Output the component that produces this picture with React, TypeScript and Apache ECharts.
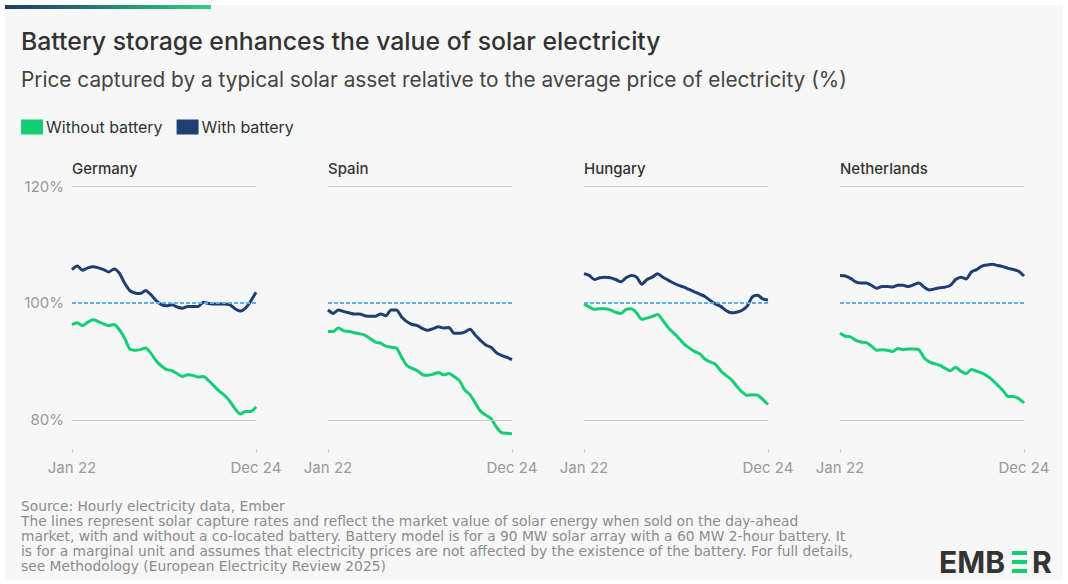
import React, { useEffect, useRef } from "react";
import * as echarts from "echarts";

// Month categories, Jan 2022 – Dec 2024
const MONTHS = [
  "Jan 22", "Feb 22", "Mar 22", "Apr 22", "May 22", "Jun 22", "Jul 22", "Aug 22", "Sep 22", "Oct 22", "Nov 22", "Dec 22",
  "Jan 23", "Feb 23", "Mar 23", "Apr 23", "May 23", "Jun 23", "Jul 23", "Aug 23", "Sep 23", "Oct 23", "Nov 23", "Dec 23",
  "Jan 24", "Feb 24", "Mar 24", "Apr 24", "May 24", "Jun 24", "Jul 24", "Aug 24", "Sep 24", "Oct 24", "Nov 24", "Dec 24",
];

const COUNTRIES = ["Germany", "Spain", "Hungary", "Netherlands"];

// Capture rate (% of average price), without battery
const germanyWithout = [96.3, 96.6, 96.1, 96.7, 97.1, 96.8, 96.4, 96.1, 96.3, 95.4, 94.0, 92.1, 91.9, 92.0, 92.3, 91.4, 90.1, 89.2, 88.6, 88.4, 87.9, 87.4, 87.7, 87.6, 87.3, 87.4, 86.7, 85.8, 84.9, 84.2, 83.2, 81.9, 81.0, 81.4, 81.4, 82.2];
const spainWithout = [95.1, 95.1, 95.7, 95.2, 95.1, 94.9, 94.7, 94.5, 93.9, 93.3, 93.1, 92.6, 92.4, 92.3, 90.7, 89.3, 88.8, 88.4, 87.7, 87.6, 87.8, 88.1, 87.7, 87.9, 87.4, 86.7, 85.1, 84.3, 82.9, 81.5, 80.8, 80.2, 78.8, 77.8, 77.7, 77.6];
const hungaryWithout = [99.8, 99.3, 98.9, 99.0, 99.0, 98.8, 98.4, 98.2, 98.9, 99.0, 98.3, 97.2, 97.4, 97.7, 98.0, 97.0, 95.8, 94.9, 94.0, 93.0, 92.3, 91.7, 91.3, 90.4, 89.9, 89.5, 88.4, 87.6, 86.9, 85.8, 84.8, 84.2, 84.3, 84.2, 83.5, 82.6];
const netherlandsWithout = [94.8, 94.3, 94.2, 93.6, 93.3, 93.2, 92.6, 91.9, 92.0, 91.9, 91.7, 92.2, 92.0, 92.1, 92.1, 92.0, 90.6, 89.9, 89.6, 89.3, 88.8, 88.4, 89.0, 88.3, 87.9, 88.6, 88.3, 88.0, 87.5, 86.8, 85.9, 85.0, 84.0, 84.0, 83.6, 82.9];

// Capture rate (% of average price), with co-located battery
const germanyWith = [105.7, 106.3, 105.6, 106.0, 106.2, 106.0, 105.7, 105.3, 105.8, 105.1, 103.4, 102.1, 101.7, 101.6, 102.1, 101.4, 100.4, 99.7, 99.5, 99.7, 99.3, 99.1, 99.4, 99.4, 99.4, 100.1, 99.9, 99.8, 99.8, 99.8, 99.7, 99.0, 98.6, 99.1, 100.3, 101.8];
const spainWith = [98.8, 98.2, 98.8, 98.5, 98.3, 98.1, 98.1, 97.8, 97.7, 97.7, 98.1, 97.8, 98.8, 98.8, 97.6, 96.8, 96.3, 96.1, 95.6, 95.3, 95.6, 95.9, 95.7, 95.8, 94.8, 94.8, 95.0, 95.5, 94.5, 93.6, 92.8, 92.4, 91.5, 91.0, 90.7, 90.3];
const hungaryWith = [105.0, 104.7, 104.0, 104.3, 104.4, 104.3, 104.0, 103.6, 104.3, 104.7, 104.4, 103.2, 104.0, 104.4, 105.0, 104.4, 103.9, 103.4, 103.0, 102.7, 102.3, 101.9, 101.5, 101.1, 100.4, 99.8, 99.4, 98.7, 98.3, 98.4, 98.7, 99.4, 101.0, 101.3, 100.7, 100.5];
const netherlandsWith = [104.7, 104.6, 104.2, 103.6, 103.4, 103.4, 103.0, 102.5, 102.8, 102.8, 102.7, 103.0, 103.0, 102.8, 103.1, 103.4, 102.7, 102.2, 102.4, 102.6, 102.7, 103.0, 104.0, 104.4, 104.1, 105.3, 105.7, 106.3, 106.5, 106.6, 106.4, 106.2, 105.9, 105.7, 105.4, 104.6];

const WITHOUT = [germanyWithout, spainWithout, hungaryWithout, netherlandsWithout];
const WITH = [germanyWith, spainWith, hungaryWith, netherlandsWith];

const Y_TICKS = [80, 100, 120];

const FOOTNOTES = [
  "Source: Hourly electricity data, Ember",
  "The lines represent solar capture rates and reflect the market value of solar energy when sold on the day-ahead",
  "market, with and without a co-located battery. Battery model is for a 90 MW solar array with a 60 MW 2-hour battery. It",
  "is for a marginal unit and assumes that electricity prices are not affected by the existence of the battery. For full details,",
  "see Methodology (European Electricity Review 2025)",
];

const GREEN = "#13CE74";
const NAVY = "#1F3F73";
const FONT = "Inter, 'Noto Sans', sans-serif";
const NOTE_FONT = "'DejaVu Sans', sans-serif";

const PANEL_LEFT = 72;
const PANEL_STEP = 256;
const PANEL_WIDTH = 184;
const PANEL_TOP = 186;
const PANEL_HEIGHT = 263;

export default function App() {
  const ref = useRef<HTMLDivElement>(null);

  useEffect(() => {
    if (!ref.current) return;
    const chart = echarts.init(ref.current, undefined, { renderer: "svg" });

    const last = MONTHS.length - 1;
    const edgeOnly = (i: number) => i === 0 || i === last;

    const grids = COUNTRIES.map((_, i) => ({
      left: PANEL_LEFT + PANEL_STEP * i,
      top: PANEL_TOP,
      width: PANEL_WIDTH,
      height: PANEL_HEIGHT,
    }));

    const xAxes = COUNTRIES.map((_, i) => ({
      type: "category",
      gridIndex: i,
      data: MONTHS,
      boundaryGap: false,
      axisLine: { show: false },
      axisTick: { show: true, interval: (idx: number) => edgeOnly(idx), length: 4, lineStyle: { color: "#cfcfcf" } },
      axisLabel: {
        interval: (idx: number) => edgeOnly(idx),
        color: "#9a9a9a",
        fontSize: 15,
        fontFamily: FONT,
        margin: 11,
      },
      splitLine: { show: false },
    }));

    const yAxes = COUNTRIES.map((_, i) => ({
      type: "value",
      gridIndex: i,
      min: 75,
      max: 120,
      interval: 5,
      axisLine: { show: false },
      axisTick: { show: false },
      splitLine: { show: false },
      axisLabel: {
        show: i === 0,
        color: "#9a9a9a",
        fontSize: 15,
        fontFamily: FONT,
        margin: 8,
        formatter: (v: number) => (Y_TICKS.includes(v) ? v + "%" : ""),
      },
    }));

    const series: any[] = [];
    COUNTRIES.forEach((_, i) => {
      // reference lines: solid grey at 80/120, dotted blue at 100
      series.push({
        type: "line",
        xAxisIndex: i,
        yAxisIndex: i,
        data: [],
        z: 1,
        silent: true,
        markLine: {
          silent: true,
          symbol: "none",
          label: { show: false },
          animation: false,
          data: [
            { yAxis: 80, lineStyle: { color: "#cccccc", width: 1.2, type: "solid" } },
            { yAxis: 120, lineStyle: { color: "#cccccc", width: 1.2, type: "solid" } },
            { yAxis: 100, lineStyle: { color: "#62ade6", width: 2, type: [4, 2] } },
          ],
        },
      });
      series.push({
        name: "Without battery",
        type: "line",
        xAxisIndex: i,
        yAxisIndex: i,
        data: WITHOUT[i],
        showSymbol: false,
        smooth: 0.25,
        lineStyle: { color: GREEN, width: 3 },
        itemStyle: { color: GREEN },
        z: 3,
      });
      series.push({
        name: "With battery",
        type: "line",
        xAxisIndex: i,
        yAxisIndex: i,
        data: WITH[i],
        showSymbol: false,
        smooth: 0.25,
        lineStyle: { color: NAVY, width: 3 },
        itemStyle: { color: NAVY },
        z: 3,
      });
    });

    const graphic: any[] = [
      { type: "rect", shape: { x: 5, y: 5, width: 1058, height: 575 }, style: { fill: "#f7f7f7" }, z: -10 },
      {
        type: "rect",
        shape: { x: 5, y: 5, width: 206, height: 4 },
        style: {
          fill: new echarts.graphic.LinearGradient(0, 0, 1, 0, [
            { offset: 0, color: "#1d3a68" },
            { offset: 1, color: "#2fcf7f" },
          ]),
        },
        z: -9,
      },
      {
        type: "text",
        style: {
          text: "Battery storage enhances the value of solar electricity",
          x: 21, y: 41, textVerticalAlign: "middle",
          font: `500 24.8px ${FONT}`, fill: "#333333",
        },
      },
      {
        type: "text",
        style: {
          text: "Price captured by a typical solar asset relative to the average price of electricity (%)",
          x: 21, y: 79, textVerticalAlign: "middle",
          font: `400 20.8px ${FONT}`, fill: "#444444",
        },
      },
      ...COUNTRIES.map((c, i) => ({
        type: "text",
        style: {
          text: c, x: PANEL_LEFT + PANEL_STEP * i, y: 168, textVerticalAlign: "middle",
          font: `500 15px ${FONT}`, fill: "#333333",
        },
      })),
      // source and methodology note
      {
        type: "text",
        style: {
          text: FOOTNOTES.join("\n"),
          x: 21, y: 498.5, textVerticalAlign: "top",
          font: `400 13.8px ${NOTE_FONT}`, lineHeight: 15, fill: "#8c8c8c",
        },
      },
      // wordmark
      {
        type: "text",
        style: { text: "EMB", x: 939, y: 562, textVerticalAlign: "middle", font: `700 30px ${FONT}`, fill: "#333333" },
      },
      { type: "rect", shape: { x: 1012, y: 551, width: 15, height: 4 }, style: { fill: GREEN } },
      { type: "rect", shape: { x: 1012, y: 560, width: 15, height: 4 }, style: { fill: GREEN } },
      { type: "rect", shape: { x: 1012, y: 569, width: 15, height: 4 }, style: { fill: GREEN } },
      {
        type: "text",
        style: { text: "R", x: 1032, y: 562, textVerticalAlign: "middle", font: `700 30px ${FONT}`, fill: "#333333" },
      },
    ];

    chart.setOption({
      animation: false,
      backgroundColor: "#ffffff",
      legend: {
        data: ["Without battery", "With battery"],
        left: 16,
        top: 114,
        icon: "rect",
        itemWidth: 22,
        itemHeight: 15,
        itemGap: 14,
        selectedMode: false,
        textStyle: { fontSize: 16, color: "#333333", fontFamily: FONT, padding: [0, 0, 0, -2] },
      },
      grid: grids,
      xAxis: xAxes,
      yAxis: yAxes,
      series,
      graphic,
    });

    return () => chart.dispose();
  }, []);

  return (
    <div
      ref={ref}
      style={{ position: "absolute", left: 0, top: 0, width: 1068, height: 584 }}
    />
  );
}
